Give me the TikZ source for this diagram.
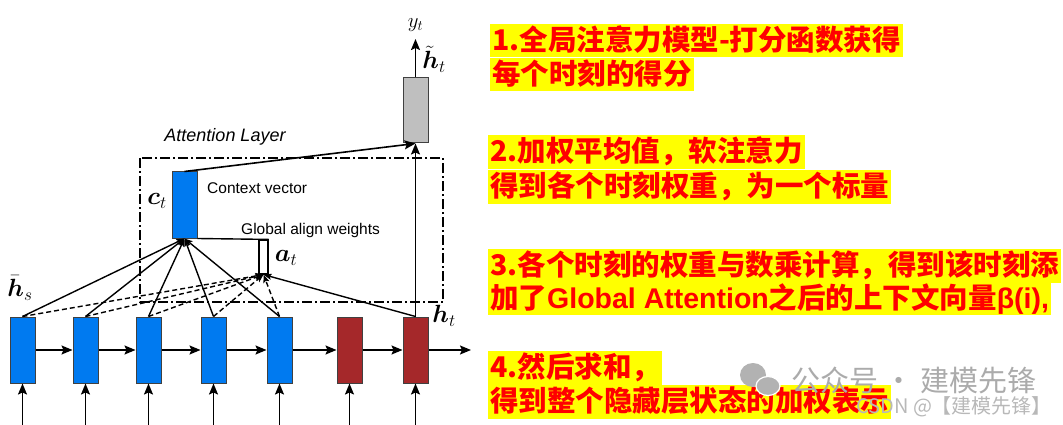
\documentclass[tikz,border=0pt]{standalone}
\usepackage{amsmath}
\usepackage{bm}
\usepackage{fontspec}
\setsansfont{Liberation Sans}
\newfontfamily\cjk{Noto Sans CJK SC}
\newfontfamily\latinb{Liberation Sans}
\usepackage{xcolor}
\usepackage{tikz}
\usetikzlibrary{positioning,arrows.meta}

\definecolor{encblue}{RGB}{0,122,240}
\definecolor{decred}{RGB}{165,40,42}
\definecolor{hlyellow}{RGB}{255,255,0}
\definecolor{notered}{RGB}{255,0,0}

\begin{document}
\begin{tikzpicture}[x=1pt, y=-1pt]
				\tikzset{
					cell/.style={rectangle, draw=black!75, line width=1pt, minimum width=25pt, minimum height=66pt, inner sep=0pt},
					enc/.style={cell, fill=encblue},
					dec/.style={cell, fill=decred},
					outcell/.style={cell, fill=black!25, minimum height=65pt},
					wcell/.style={rectangle, draw=black, line width=1.2pt, fill=white, minimum width=9pt, minimum height=34pt, inner sep=0pt},
					arr/.style={draw=black, line width=1.6pt, -{Stealth[length=11pt, width=9pt, inset=2pt]}},
					attn/.style={draw=black, line width=1.4pt, -{Stealth[length=8pt, width=6pt, inset=1.5pt]}},
					soft/.style={attn, dash pattern=on 5pt off 3pt},
					lbl/.style={font=\fontsize{24}{28}\selectfont, inner sep=0pt},
					caption/.style={font=\sffamily\fontsize{15.5}{18}\selectfont, inner sep=0pt, anchor=west},
					note/.style={font=\cjk\bfseries\fontsize{28.5}{32}\selectfont, text=notered, fill=hlyellow, anchor=west, inner xsep=2pt, inner ysep=2.5pt, text height=24pt, text depth=4.5pt},
					wmark/.style={font=\cjk\fontsize{29}{32}\selectfont, text=black!33, inner sep=0pt, anchor=west}
				}
				\useasboundingbox (0,0) rectangle (1063,425);
				
				% ---- Hidden states (source 1..5, target 6,7) ----
				\node[enc] (h1) at (22.5,350) {};
				\node[enc] (h2) at (85.5,350) {};
				\node[enc] (h3) at (148.5,350) {};
				\node[enc] (h4) at (213.5,350) {};
				\node[enc] (h5) at (279.5,350) {};
				\node[dec] (h6) at (349.5,350) {};
				\node[dec] (h7) at (415.5,350) {};
				
				\coordinate (i1) at (22.5,425);
				\coordinate (i2) at (85.5,425);
				\coordinate (i3) at (148.5,425);
				\coordinate (i4) at (213.5,425);
				\coordinate (i5) at (279.5,425);
				\coordinate (i6) at (349.5,425);
				\coordinate (i7) at (415.5,425);
				\coordinate (hend) at (471,350);
				
				\draw[arr] (i1) -- (h1);
				\draw[arr] (i2) -- (h2);
				\draw[arr] (i3) -- (h3);
				\draw[arr] (i4) -- (h4);
				\draw[arr] (i5) -- (h5);
				\draw[arr] (i6) -- (h6);
				\draw[arr] (i7) -- (h7);
				
				\draw[arr] (h1) -- (h2);
				\draw[arr] (h2) -- (h3);
				\draw[arr] (h3) -- (h4);
				\draw[arr] (h4) -- (h5);
				\draw[arr] (h5) -- (h6);
				\draw[arr] (h6) -- (h7);
				\draw[arr] (h7) -- (hend);
				
				% ---- Attention layer ----
				\draw[line width=1.4pt, dash pattern=on 10pt off 3pt on 2pt off 3pt] (140,158) rectangle (443,302);
				\node[font=\sffamily\itshape\fontsize{18}{21}\selectfont, inner sep=0pt] (attlbl) at (225,137) {Attention Layer};
				
				\node[enc] (ct) at (184.5,205) {};
				\node[wcell] (at) at (263.5,257) {};
				\draw[line width=1.4pt] (ct.south east) -- (at.north east);
				
				\draw[attn] (h1.north) -- (ct.south);
				\draw[attn] (h2.north) -- (ct.south);
				\draw[attn] (h3.north) -- (ct.south);
				\draw[attn] (h4.north) -- (ct.south);
				\draw[attn] (h5.north) -- (ct.south);
				
				\draw[soft] (h1.north) -- (at.south);
				\draw[soft] (h2.north) -- (at.south);
				\draw[soft] (h3.north) -- (at.south);
				\draw[soft] (h4.north) -- (at.south);
				\draw[soft] (h5.north) -- (at.south);
				\draw[attn] (h7.north) -- (at.south);
				
				% ---- Attentional output ----
				\node[outcell] (hh) at (415.5,110.5) {};
				\coordinate (yout) at (415.5,39);
				\draw[arr] (ct.north) -- (hh.south);
				\draw[arr] (h7.north) -- (hh.south);
				\draw[arr] (hh.north) -- (yout);
				
				% ---- Labels ----
				\node[lbl, font=\fontsize{21}{24}\selectfont] (ylbl) at (415.5,25) {$y_t$};
				\node[lbl] (hhlbl) at (434,59) {$\tilde{\bm{h}}_t$};
				\node[lbl] (hslbl) at (20,288) {$\bar{\bm{h}}_s$};
				\node[lbl] (ctlbl) at (157,201) {$\bm{c}_t$};
				\node[lbl] (atlbl) at (286,258) {$\bm{a}_t$};
				\node[lbl] (htlbl) at (444,316) {$\bm{h}_t$};
				\node[caption] (ctxlbl) at (207,188) {Context vector};
				\node[caption] (gawlbl) at (241,230) {Global align weights};
				
				% ---- Notes ----
				\node[note] (s1a) at (490,40.5) {1.全局注意力模型-打分函数获得};
				\node[note] (s1b) at (490,74.5) {每个时刻的得分};
				\node[note] (s2a) at (488,152) {2.加权平均值，软注意力};
				\node[note] (s2b) at (488,187) {得到各个时刻权重，为一个标量};
				\node[note] (s3a) at (488,266) {3.各个时刻的权重与数乘计算，得到该时刻添};
				\node[note] (s3b) at (488,298.5) {加了{\latinb\bfseries Global Attention}之后的上下文向量{\latinb\bfseries β(i),}};
				\node[note] (s4a) at (488,368) {4.然后求和，};
				\node[note] (s4b) at (488,402) {得到整个隐藏层状态的加权表示};
				
				% ---- Watermark ----
				\fill[black!30] (753,375) ellipse (13pt and 12pt);
				\fill[black!30, draw=white, line width=1.2pt] (768,386) ellipse (12pt and 9.5pt);
				\node[wmark] (wm1) at (791,380) {公众号 · 建模先锋};
				\node[wmark, font=\cjk\fontsize{20}{22}\selectfont, text=black!28] (wm2) at (856,407) {CSDN @【建模先锋】};
			\end{tikzpicture}
\end{document}
